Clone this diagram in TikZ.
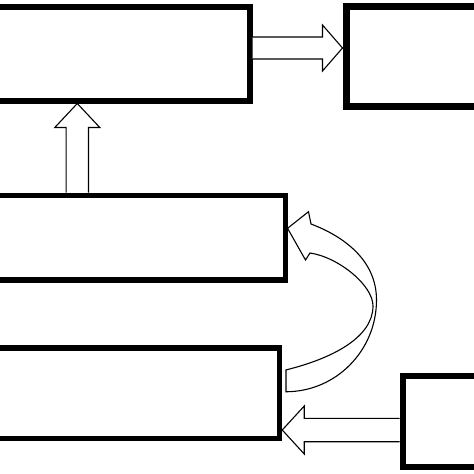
\documentclass[tikz,border=0pt]{standalone}
\usetikzlibrary{calc}
\begin{document}
\begin{tikzpicture}[x=1pt,y=-1pt,
  box/.style={draw=black, inner sep=0pt, line width=#1},
  box/.default=6pt,
  barrow/.style={draw=black, fill=white, line width=1.1pt, line join=miter}]
\clip (0,0) rectangle (474,474);
% boxes
\node[box, minimum width=269.7pt, minimum height=93.8pt] (b1) at (114.85,53.6) {};
\node[box=7pt, minimum width=154pt, minimum height=99.5pt] (b2) at (423,56.25) {};
\node[box=5.5pt, minimum width=305.3pt, minimum height=84.7pt] (b3) at (132.65,237.65) {};
\node[box=5.5pt, minimum width=299.5pt, minimum height=90.5pt] (b4) at (129.75,393.25) {};
\node[box, minimum width=97.5pt, minimum height=91pt] (b5) at (451.25,421.2) {};
% b1 -> b2
\coordinate (s1) at ($(b1.east)+(0,-5.6)$);
\coordinate (t1) at ($(b2.west)+(0,-8.25)$);
\draw[barrow] ($(s1)+(0,-11)$) -- ($(t1)+(-20,-11)$) -- ($(t1)+(-20,-23)$) -- (t1)
  -- ($(t1)+(-20,23)$) -- ($(t1)+(-20,11)$) -- ($(s1)+(0,11)$);
% b3 -> b1
\coordinate (s2) at ($(b3.north)+(-55.35,0)$);
\coordinate (t2) at ($(b1.south)+(-37.55,0)$);
\draw[barrow] ($(s2)+(-11.2,0)$) -- ($(t2)+(-11.2,24)$) -- ($(t2)+(-22.5,24)$) -- (t2)
  -- ($(t2)+(22.5,24)$) -- ($(t2)+(11.2,24)$) -- ($(s2)+(11.2,0)$);
% b5 -> b4
\coordinate (s3) at ($(b5.west)+(0,8.8)$);
\coordinate (t3) at ($(b4.east)+(0,36.75)$);
\draw[barrow] ($(s3)+(0,-11.7)$) -- ($(t3)+(22,-11.7)$) -- ($(t3)+(22,-24)$) -- (t3)
  -- ($(t3)+(22,24)$) -- ($(t3)+(22,11.7)$) -- ($(s3)+(0,11.7)$);
% curved b4 -> b3
\coordinate (ct) at ($(b3.east)+(-0.5,-9.35)$);
\coordinate (cs1) at ($(b4.east)+(3.7,-23.3)$);
\coordinate (cs2) at ($(b4.east)+(3.7,-1.5)$);
\draw[barrow] (cs1) -- (cs2)
  .. controls (336,391.7) and (376.5,350.6) .. (376.5,300)
  .. controls (376.5,260) and (343.7,236.4) .. (311,224)
  -- (308.5,211.7) -- (ct) -- (305.5,260) -- (310,253)
  .. controls (338,257) and (373,285) .. (373,306)
  .. controls (373,338) and (331,358.75) .. (cs1) -- cycle;
\end{tikzpicture}
\end{document}
